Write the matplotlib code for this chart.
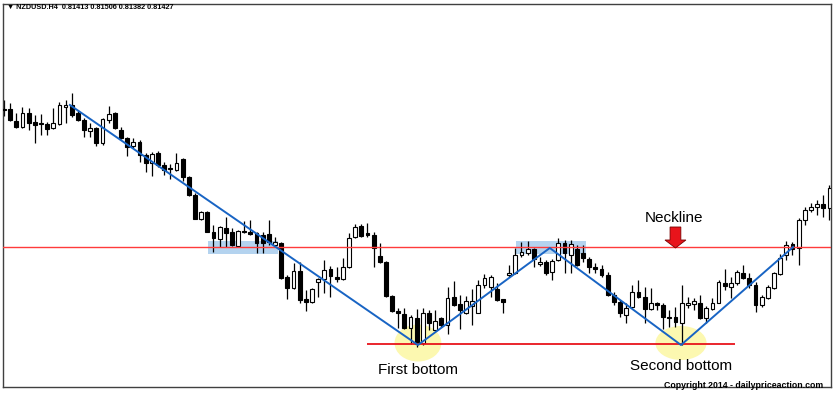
import numpy as np
import matplotlib.pyplot as plt
from matplotlib.patches import Ellipse, Rectangle

# NZDUSD H4 candles
opens = [0.8231, 0.8231, 0.8219, 0.8213, 0.8227, 0.8218, 0.8217, 0.8216, 0.8212, 0.8216,
         0.8233, 0.8235, 0.8227, 0.8220, 0.8209, 0.8212, 0.8197, 0.8220, 0.8227, 0.8210,
         0.8202, 0.8194, 0.8198, 0.8185, 0.8177, 0.8187, 0.8175, 0.8172, 0.8170, 0.8181,
         0.8163, 0.8145, 0.8121, 0.8128, 0.8108, 0.8101, 0.8112, 0.8108, 0.8094, 0.8109,
         0.8108, 0.8107, 0.8105, 0.8106, 0.8095, 0.8097, 0.8063, 0.8052, 0.8069, 0.8041,
         0.8038, 0.8058, 0.8061, 0.8071, 0.8063, 0.8061, 0.8073, 0.8103, 0.8114, 0.8107,
         0.8105, 0.8084, 0.8078, 0.8044, 0.8029, 0.8026, 0.8012, 0.8022, 0.7997, 0.8027,
         0.8010, 0.8022, 0.8015, 0.8043, 0.8036, 0.8027, 0.8034, 0.8027, 0.8055, 0.8053,
         0.8051, 0.8041, 0.8065, 0.8067, 0.8085, 0.8087, 0.8091, 0.8076, 0.8078, 0.8068,
         0.8080, 0.8097, 0.8085, 0.8091, 0.8087, 0.8081, 0.8073, 0.8071, 0.8065, 0.8045,
         0.8038, 0.8025, 0.8033, 0.8048, 0.8043, 0.8031, 0.8037, 0.8035, 0.8023, 0.8023,
         0.8017, 0.8035, 0.8036, 0.8037, 0.8022, 0.8031, 0.8037, 0.8057, 0.8053, 0.8057,
         0.8067, 0.8062, 0.8055, 0.8035, 0.8042, 0.8052, 0.8066, 0.8085, 0.8096, 0.8092,
         0.8120, 0.8130, 0.8133, 0.8136, 0.8132]
highs = [0.8240, 0.8237, 0.8227, 0.8233, 0.8232, 0.8225, 0.8226, 0.8218, 0.8232, 0.8238,
         0.8240, 0.8247, 0.8230, 0.8222, 0.8217, 0.8213, 0.8222, 0.8234, 0.8228, 0.8213,
         0.8203, 0.8202, 0.8200, 0.8187, 0.8188, 0.8189, 0.8178, 0.8176, 0.8187, 0.8182,
         0.8164, 0.8147, 0.8129, 0.8129, 0.8115, 0.8114, 0.8123, 0.8112, 0.8110, 0.8119,
         0.8120, 0.8108, 0.8108, 0.8120, 0.8103, 0.8098, 0.8065, 0.8077, 0.8078, 0.8050,
         0.8052, 0.8062, 0.8080, 0.8074, 0.8073, 0.8082, 0.8107, 0.8116, 0.8116, 0.8117,
         0.8108, 0.8097, 0.8079, 0.8045, 0.8032, 0.8032, 0.8025, 0.8031, 0.8032, 0.8030,
         0.8030, 0.8023, 0.8053, 0.8059, 0.8045, 0.8044, 0.8051, 0.8060, 0.8066, 0.8065,
         0.8057, 0.8041, 0.8075, 0.8092, 0.8098, 0.8099, 0.8092, 0.8083, 0.8080, 0.8081,
         0.8102, 0.8100, 0.8100, 0.8095, 0.8095, 0.8083, 0.8077, 0.8075, 0.8068, 0.8048,
         0.8040, 0.8037, 0.8055, 0.8060, 0.8053, 0.8052, 0.8038, 0.8037, 0.8030, 0.8033,
         0.8055, 0.8043, 0.8042, 0.8045, 0.8034, 0.8042, 0.8060, 0.8071, 0.8063, 0.8070,
         0.8075, 0.8067, 0.8058, 0.8045, 0.8055, 0.8068, 0.8086, 0.8099, 0.8098, 0.8122,
         0.8133, 0.8137, 0.8140, 0.8145, 0.8155]
lows = [0.8224, 0.8219, 0.8212, 0.8212, 0.8210, 0.8197, 0.8205, 0.8205, 0.8211, 0.8215,
        0.8217, 0.8223, 0.8219, 0.8203, 0.8203, 0.8194, 0.8195, 0.8217, 0.8211, 0.8201,
        0.8184, 0.8192, 0.8178, 0.8168, 0.8164, 0.8173, 0.8165, 0.8161, 0.8169, 0.8159,
        0.8144, 0.8121, 0.8120, 0.8108, 0.8088, 0.8093, 0.8093, 0.8094, 0.8093, 0.8107,
        0.8105, 0.8087, 0.8087, 0.8095, 0.8093, 0.8061, 0.8041, 0.8051, 0.8037, 0.8029,
        0.8037, 0.8043, 0.8047, 0.8043, 0.8058, 0.8060, 0.8072, 0.8102, 0.8103, 0.8103,
        0.8073, 0.8077, 0.8043, 0.8028, 0.8012, 0.8011, 0.7996, 0.7993, 0.7995, 0.8010,
        0.8009, 0.8013, 0.8006, 0.8034, 0.8011, 0.8026, 0.8015, 0.8027, 0.8052, 0.8043,
        0.8039, 0.8027, 0.8063, 0.8066, 0.8083, 0.8085, 0.8073, 0.8074, 0.8065, 0.8060,
        0.8079, 0.8067, 0.8067, 0.8074, 0.8078, 0.8067, 0.8067, 0.8063, 0.8044, 0.8035,
        0.8023, 0.8017, 0.8032, 0.8042, 0.8017, 0.8030, 0.8030, 0.8011, 0.8013, 0.8013,
        0.7995, 0.8032, 0.8030, 0.8021, 0.8017, 0.8030, 0.8037, 0.8050, 0.8042, 0.8055,
        0.8061, 0.8052, 0.8028, 0.8033, 0.8041, 0.8051, 0.8065, 0.8080, 0.8085, 0.8075,
        0.8115, 0.8128, 0.8125, 0.8123, 0.8120]
closes = [0.8230, 0.8220, 0.8213, 0.8227, 0.8217, 0.8215, 0.8216, 0.8211, 0.8217, 0.8235,
          0.8235, 0.8225, 0.8220, 0.8210, 0.8212, 0.8197, 0.8221, 0.8226, 0.8212, 0.8202,
          0.8193, 0.8198, 0.8185, 0.8177, 0.8186, 0.8175, 0.8170, 0.8171, 0.8177, 0.8163,
          0.8145, 0.8121, 0.8128, 0.8108, 0.8102, 0.8113, 0.8107, 0.8095, 0.8109, 0.8108,
          0.8106, 0.8097, 0.8097, 0.8098, 0.8098, 0.8062, 0.8052, 0.8069, 0.8040, 0.8038,
          0.8051, 0.8061, 0.8070, 0.8064, 0.8061, 0.8073, 0.8102, 0.8113, 0.8104, 0.8105,
          0.8092, 0.8078, 0.8044, 0.8029, 0.8027, 0.8012, 0.8023, 0.7996, 0.8027, 0.8017,
          0.8019, 0.8015, 0.8042, 0.8035, 0.8030, 0.8039, 0.8039, 0.8055, 0.8062, 0.8063,
          0.8040, 0.8038, 0.8067, 0.8085, 0.8088, 0.8091, 0.8081, 0.8078, 0.8067, 0.8079,
          0.8097, 0.8087, 0.8096, 0.8075, 0.8082, 0.8073, 0.8071, 0.8065, 0.8045, 0.8038,
          0.8027, 0.8032, 0.8048, 0.8043, 0.8031, 0.8037, 0.8035, 0.8023, 0.8022, 0.8018,
          0.8037, 0.8037, 0.8039, 0.8022, 0.8032, 0.8037, 0.8058, 0.8054, 0.8057, 0.8068,
          0.8062, 0.8055, 0.8035, 0.8043, 0.8053, 0.8067, 0.8082, 0.8095, 0.8091, 0.8120,
          0.8130, 0.8133, 0.8136, 0.8132, 0.8152]

# annotations (candle index / price)
neckline = 0.8093
support = 0.7996
support_span = [58.9, 118.7]
zigzag_idx = [10.7, 67.2, 88.6, 109.9, 128.1]
zigzag_px = [0.8235, 0.7995, 0.8092, 0.7995, 0.8093]
zones = [(33.1, 44.5), (83.1, 94.5)]
zone_px = (0.8086, 0.8099)
bottoms_idx = [67.2, 109.9]
bottoms_px = [0.7997, 0.7997]
bottom_labels = ['First bottom', 'Second bottom']

o = np.array(opens)
h = np.array(highs)
l = np.array(lows)
c = np.array(closes)
x = np.arange(len(o))

plt.rcParams['font.family'] = ['Liberation Sans', 'DejaVu Sans']

fig = plt.figure(figsize=(8.37, 3.94), dpi=100)
ax = fig.add_axes([3 / 837, 1 - 387 / 394, 828 / 837, 383 / 394])

# yellow circles round the two bottoms
ax.add_patch(Ellipse((bottoms_idx[0], bottoms_px[0]), 7.6, 0.0037, color='#fcf8b0', lw=0, zorder=0))
ax.add_patch(Ellipse((bottoms_idx[1], bottoms_px[1]), 8.3, 0.0034, color='#fcf8b0', lw=0, zorder=0))

# blue resistance zones
for z0, z1 in zones:
    ax.add_patch(Rectangle((z0, zone_px[0]), z1 - z0, zone_px[1] - zone_px[0],
                           color='#b4d3ef', lw=0, zorder=1))

# candles
up = c >= o
ax.vlines(x, l, h, color='black', lw=0.9, zorder=2)
ax.bar(x[up], (c - o)[up], 0.62, bottom=o[up], color='white', edgecolor='black', lw=0.8, zorder=3)
ax.bar(x[~up], (o - c)[~up], 0.62, bottom=c[~up], color='black', edgecolor='black', lw=0.8, zorder=3)

# lines
ax.axhline(neckline, color='#ff3b3b', lw=1.0, zorder=4)
ax.hlines(support, support_span[0], support_span[1], color='#e8141b', lw=1.3, zorder=4)
ax.plot(zigzag_idx, zigzag_px, color='#1864c4', lw=1.4, zorder=5)

# neckline arrow
ax.arrow(109.0, 0.8113, 0, -0.0021, width=1.75, head_width=3.4, head_length=0.0008,
         length_includes_head=True, facecolor='#e8141b', edgecolor='#7a0000', lw=0.6, zorder=6)

ax.text(108.8, 0.8122, 'Neckline', ha='center', va='center', fontsize=11, zorder=6)
ax.text(bottoms_idx[0], 0.7970, bottom_labels[0], ha='center', va='center', fontsize=11)
ax.text(bottoms_idx[1], 0.7974, bottom_labels[1], ha='center', va='center', fontsize=11)
ax.text(133.0, 0.7955, 'Copyright 2014 - dailypriceaction.com', ha='right', va='center',
        fontsize=6.3, fontweight='bold')

fig.text(7 / 837, 1 - 7 / 394, '\u25bc NZDUSD.H4  0.81413 0.81506 0.81382 0.81427',
         ha='left', va='center', fontsize=5.2, fontweight='bold')

ax.set_xlim(-0.16, 134.25)
ax.set_ylim(0.7953, 0.8336)
ax.set_xticks([])
ax.set_yticks([])
for s in ax.spines.values():
    s.set_color('#404040')
    s.set_linewidth(1.0)

fig.savefig('out.png', dpi=100)
